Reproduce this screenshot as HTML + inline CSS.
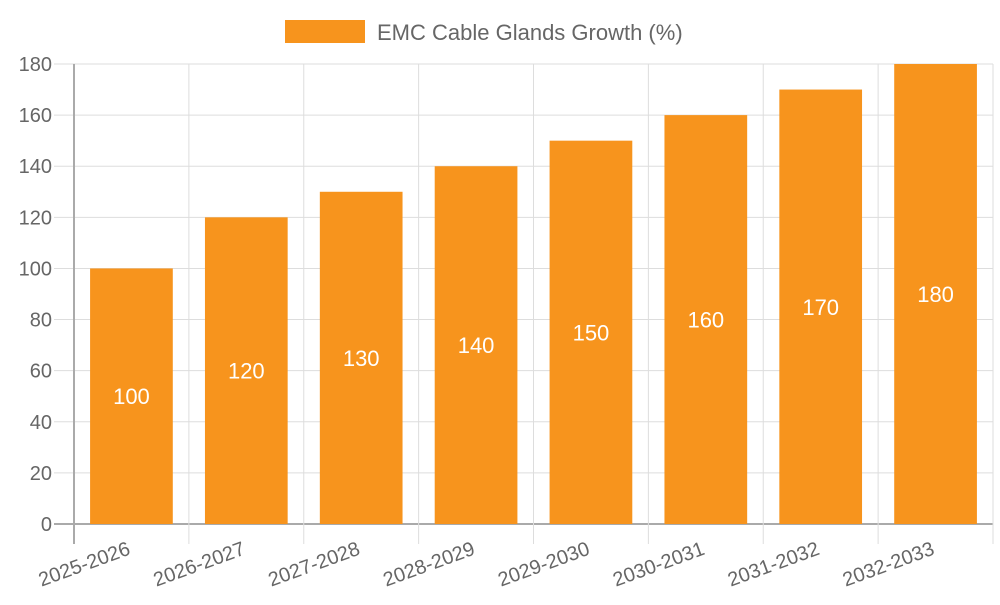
<!DOCTYPE html>
<html><head><meta charset="utf-8"><style>
body{margin:0;background:#fff;}
svg text{font-family:"Liberation Sans",sans-serif;}
</style></head><body>
<svg id="chart" width="1000" height="600" xmlns="http://www.w3.org/2000/svg">
<g>
<rect x="285" y="20" width="80" height="23" fill="#f7941d"/>
<text x="377" y="40" font-size="22" fill="#666">EMC Cable Glands Growth (%)</text>
</g>
<g id="grid"></g><g id="bars"></g><g id="axes"></g>
</svg>
<script>
const categories=["2025-2026","2026-2027","2027-2028","2028-2029","2029-2030","2030-2031","2031-2032","2032-2033"];
const values=[100,120,130,140,150,160,170,180];
const yTicks=[0,20,40,60,80,100,120,140,160,180];
const NS="http://www.w3.org/2000/svg";
const L=74,R=993,T=64,B=524,yMax=180;
const bw=(R-L)/categories.length;
const y=v=>B-(v/yMax)*(B-T);
const x=i=>L+bw*i;
function mk(tag,attrs,parent,txt){const e=document.createElementNS(NS,tag);for(const k in attrs)e.setAttribute(k,attrs[k]);if(txt!==undefined)e.textContent=txt;document.getElementById(parent).appendChild(e);return e;}
yTicks.forEach(t=>{
 const g=mk('line',{x1:L-20,x2:R,y1:y(t),y2:y(t),stroke:t===0?'#aaa':'#ddd','stroke-width':t===0?2:1},'grid');
 
 
 const lb=mk('text',{x:L-22,y:y(t)+7,'text-anchor':'end','font-size':20,fill:'#666'},'axes',String(t));
 
 
});
for(let i=0;i<=categories.length;i++){
 const g=mk('line',{x1:x(i),x2:x(i),y1:T,y2:B+20,stroke:i===0?'#aaa':'#ddd','stroke-width':i===0?2:1},'grid');
 
 
}
categories.forEach((c,i)=>{
 const cx=x(i)+bw/2, w=bw*0.72;
 const r=mk('rect',{x:cx-w/2,y:y(values[i]),width:w,height:B-y(values[i]),fill:'#f7941d'},'bars');
 
 
 const v=mk('text',{x:cx,y:(y(values[i])+B)/2+8,'text-anchor':'middle','font-size':22,fill:'#fff'},'bars',String(values[i]));
 
 
 const lb=mk('text',{x:cx,y:B+30,'text-anchor':'end','font-size':20,fill:'#666',transform:`rotate(-20 ${cx} ${B+30})`},'axes',c);
 
 
});
</script>
</body></html>
